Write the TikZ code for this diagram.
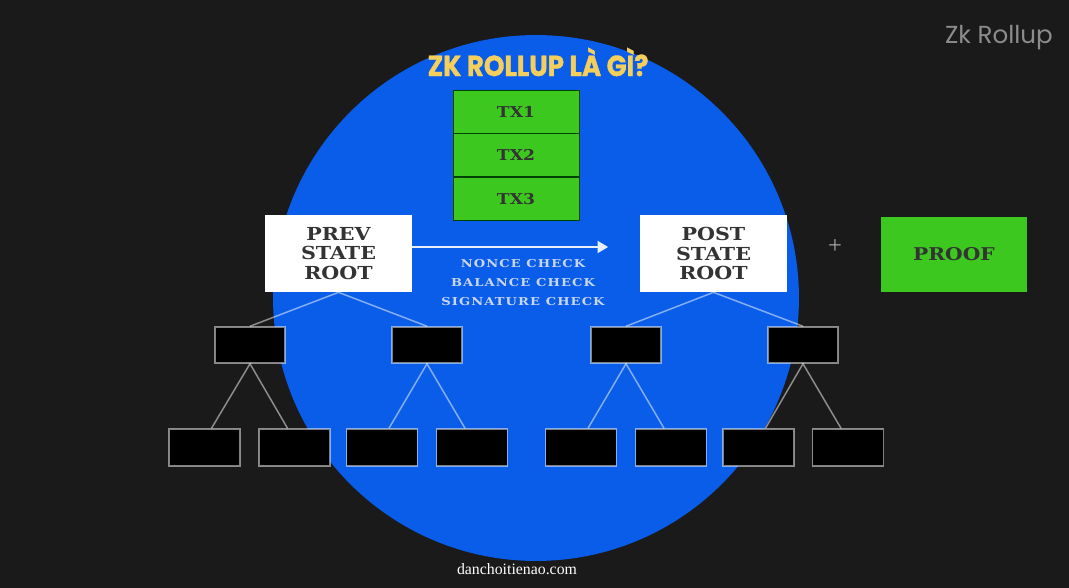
\documentclass[tikz,border=0pt]{standalone}
\usepackage{fontspec}
\usetikzlibrary{positioning, arrows.meta}
\setmainfont{Liberation Serif}
\newfontfamily\slabfont[FakeStretch=1.15]{DejaVu Serif}
\newfontfamily\checkfont[FakeStretch=1.2, LetterSpace=10]{DejaVu Serif}
\newfontfamily\titlefont[FakeStretch=0.9, FakeBold=1.2]{Poppins}
\newfontfamily\brandfont{Poppins}
\definecolor{bgdark}{HTML}{1B1A1A}
\definecolor{rollblue}{HTML}{0A5DE8}
\definecolor{txgreen}{HTML}{3CC81E}
\definecolor{titleyellow}{HTML}{F5CF5B}
\definecolor{checktext}{HTML}{C8D6EE}

\begin{document}
\begin{tikzpicture}[x=0.02cm, y=-0.02cm]
  % --- Styles ---
  \tikzset{
    state root/.style={fill=white, minimum width=2.94cm, minimum height=1.54cm,
      align=center, inner sep=0pt, font=\slabfont\bfseries\fontsize{10.2}{11.3}\selectfont, text=black!80},
    tx box/.style={fill=txgreen, draw=green!25!black, line width=0.5pt, minimum width=2.52cm,
      minimum height=0.86cm, inner sep=0pt, font=\slabfont\bfseries\fontsize{8.5}{10}\selectfont, text=black!80},
    proof box/.style={fill=txgreen, minimum width=2.92cm, minimum height=1.5cm, inner sep=0pt,
      font=\slabfont\bfseries\fontsize{10}{12}\selectfont, text=black!80},
    tree box/.style={fill=black, draw=white, draw opacity=0.5, line width=0.85pt,
      minimum width=1.4cm, minimum height=0.72cm, inner sep=0pt},
    leaf box/.style={tree box, minimum width=1.42cm, minimum height=0.74cm},
    tree edge/.style={draw=white, opacity=0.5, line width=0.85pt}
  }

  % --- Background and the big circle ---
  \fill[bgdark] (0,0) rectangle (1069,588);
  \useasboundingbox (0,0) rectangle (1069,588);
  \fill[rollblue] (536,298) circle[radius=5.26cm];

  % --- Texts on top ---
  \node[font=\titlefont\bfseries\fontsize{16.5}{19}\selectfont, text=titleyellow] (title) at (538,62) {ZK ROLLUP LÀ GÌ?};
  \node[font=\brandfont\fontsize{14}{16}\selectfont, text=black!45!white] (brand) at (999,38) {Zk Rollup};
  \node[font=\fontsize{9}{11}\selectfont, text=white] (site) at (517,569) {danchoitienao.com};

  % --- Batch of transactions ---
  \node[tx box] (TX1) at (516,111.5) {TX1};
  \node[tx box, below=0pt of TX1] (TX2) {TX2};
  \node[tx box, below=0pt of TX2] (TX3) {TX3};

  % --- State roots and proof ---
  \node[state root] (prev) at (338.5,253.5) {PREV\\STATE\\ROOT};
  \node[state root] (post) at (713.5,253.5) {POST\\STATE\\ROOT};
  \node[font=\fontsize{14}{16}\selectfont, text=black!35!white] (plus) at (835,247) {+};
  \node[proof box] (proof) at (954,254.5) {PROOF};

  % --- Transition arrow with its checks ---
  \draw[white!90!rollblue, line width=0.6pt, shorten >=18pt,
    -{Triangle[width=7pt, length=6pt]}] (prev.east |- 0,247) -- (post.west |- 0,247);
  \node[font=\checkfont\bfseries\fontsize{6.2}{10.8}\selectfont, text=checktext, align=center]
    (checks) at (523,283) {NONCE CHECK\\BALANCE CHECK\\SIGNATURE CHECK};

  % --- Merkle trees below the roots ---
  \node[tree box] (A1) at (250,345) {};
  \node[tree box] (A2) at (427,345) {};
  \node[tree box] (B1) at (626,345) {};
  \node[tree box] (B2) at (803,345) {};

  \node[leaf box] (A11) at (204.5,447.5) {};
  \node[leaf box] (A12) at (294.5,447.5) {};
  \node[leaf box] (A21) at (382,447.5) {};
  \node[leaf box] (A22) at (472,447.5) {};
  \node[leaf box] (B11) at (581,447.5) {};
  \node[leaf box] (B12) at (671,447.5) {};
  \node[leaf box] (B21) at (758.5,447.5) {};
  \node[leaf box] (B22) at (848,447.5) {};

  \draw[tree edge] (A1.north) -- (prev.south) -- (A2.north);
  \draw[tree edge] (B1.north) -- (post.south) -- (B2.north);
  \foreach \p in {A1, A2, B1, B2}{
    \draw[tree edge] ([xshift=0.14cm]\p1.north) -- (\p.south) -- ([xshift=-0.14cm]\p2.north);
  }
\end{tikzpicture}
\end{document}
